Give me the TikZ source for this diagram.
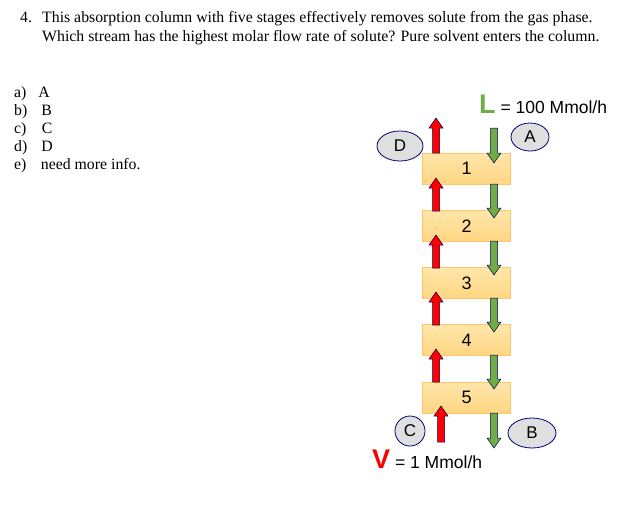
\documentclass[tikz,border=0pt]{standalone}
\usepackage{fontspec}
\usetikzlibrary{shapes.geometric}
\setmainfont{Liberation Serif}
\newfontfamily\sanf{Liberation Sans}
\definecolor{boxc}{RGB}{255,214,130}
\definecolor{boxt}{RGB}{255,230,170}
\definecolor{grn}{RGB}{112,173,71}
\begin{document}
\begin{tikzpicture}[x=1pt,y=-1pt,
  stage/.style={draw=boxc!80!orange,top color=boxt,bottom color=boxc,minimum width=88pt,minimum height=31pt,inner sep=0pt,font=\sanf\fontsize{18}{18}\selectfont},
  tag/.style={ellipse,draw=blue!45!black,fill=gray!25,thick,inner sep=0pt,font=\sanf\fontsize{17}{17}\selectfont},
  redarr/.style={fill=red,draw=blue!30!black,line width=0.5pt},
  grnarr/.style={fill=grn,draw=blue!30!black,line width=0.5pt},
  q/.style={anchor=base west,inner sep=0pt,font=\fontsize{15.8}{17}\selectfont}]
\useasboundingbox (0,0) rectangle (642,504);
\newcommand\upA[3]{\path[redarr] (#1-3.5,#2) -- (#1-3.5,#3+10) -- (#1-7,#3+10) -- (#1,#3) -- (#1+7,#3+10) -- (#1+3.5,#3+10) -- (#1+3.5,#2) -- cycle;}
\newcommand\dnA[3]{\path[grnarr] (#1-3.5,#2) -- (#1-3.5,#3-10) -- (#1-7,#3-10) -- (#1,#3) -- (#1+7,#3-10) -- (#1+3.5,#3-10) -- (#1+3.5,#2) -- cycle;}
\node[q] (n) at (20,22) {4.};
\node[q] (t1) at (42,22) {This absorption column with five stages effectively removes solute from the gas phase.};
\node[q] (t2) at (42,41) {Which stream has the highest molar flow rate of solute? Pure solvent enters the column.};
\node[q] (oa) at (14,97) {a)\hspace{12pt}A};
\node[q] (ob) at (14,115) {b)\hspace{10pt} B};
\node[q] (oc) at (14,133) {c)\hspace{11.5pt} C};
\node[q] (od) at (14,151) {d)\hspace{10pt} D};
\node[q] (oe) at (14,169.5) {e)\hspace{10.5pt} need more info.};
\foreach \i/\y in {1/168.5,2/226,3/283,4/340,5/397.5}{\node[stage] (s\i) at (466.5,\y) {\i};}
\upA{436}{153}{118}
\upA{436}{211}{178}
\upA{436}{268}{235}
\upA{436}{325}{292}
\upA{436}{382}{349}
\upA{441}{442}{406}
\dnA{494}{128}{163}
\dnA{494}{184}{218}
\dnA{494}{241}{275}
\dnA{494}{298}{332}
\dnA{494}{355}{389}
\dnA{494}{413}{448}
\node[tag,minimum width=46pt,minimum height=30pt] (D) at (400,146) {D};
\node[tag,minimum width=38pt,minimum height=28pt] (A) at (530,137) {A};
\node[tag,minimum width=30pt,minimum height=30pt] (C) at (410,431) {C};
\node[tag,minimum width=48pt,minimum height=30pt] (B) at (532,433) {B};
\node[anchor=base west,inner sep=0pt,font=\sanf\fontsize{17.5}{17.5}\selectfont] (L) at (479,113) {{\color{grn}\bfseries\fontsize{27}{27}\selectfont L} = 100 Mmol/h};
\node[anchor=base west,inner sep=0pt,font=\sanf\fontsize{17.5}{17.5}\selectfont] (V) at (372,468) {{\color{red}\bfseries\fontsize{27}{27}\selectfont V} = 1 Mmol/h};
\end{tikzpicture}
\end{document}
